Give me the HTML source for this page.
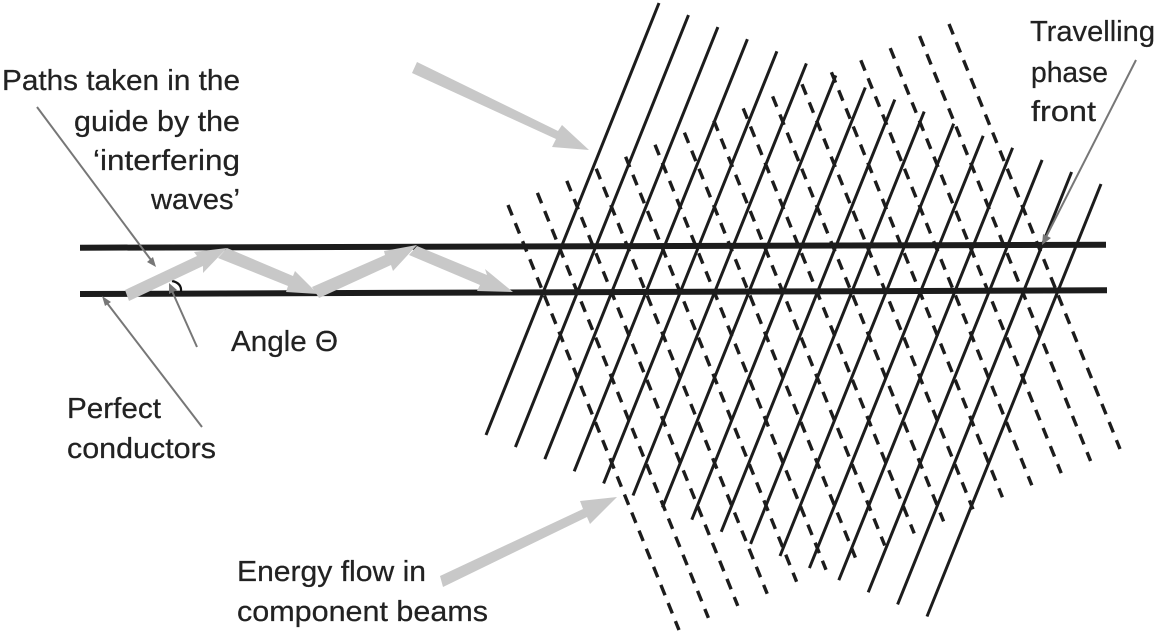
<!DOCTYPE html>
<html><head><meta charset="utf-8"><style>
html,body{margin:0;padding:0;background:#fff;width:1158px;height:633px;overflow:hidden}
svg{display:block}
text{font-family:"Liberation Sans",sans-serif;font-size:29px;fill:#222;stroke:#222;stroke-width:.25px}
</style></head><body>
<svg width="1158" height="633" viewBox="0 0 1158 633" xmlns="http://www.w3.org/2000/svg">
<g stroke="#1c1c1c" stroke-width="3" fill="none">
<line x1="659" y1="3" x2="486" y2="435"/>
<line x1="688.5" y1="15.1" x2="515.4" y2="447.1"/>
<line x1="717.9" y1="27.1" x2="544.8" y2="459.2"/>
<line x1="747.4" y1="39.2" x2="574.2" y2="471.3"/>
<line x1="776.9" y1="51.3" x2="603.6" y2="483.4"/>
<line x1="806.4" y1="63.4" x2="633" y2="495.5"/>
<line x1="835.8" y1="75.4" x2="662.4" y2="507.6"/>
<line x1="865.3" y1="87.5" x2="691.8" y2="519.7"/>
<line x1="894.8" y1="99.6" x2="721.2" y2="531.8"/>
<line x1="924.2" y1="111.6" x2="750.6" y2="543.9"/>
<line x1="953.7" y1="123.7" x2="780" y2="556"/>
<line x1="983.2" y1="135.8" x2="809.4" y2="568.1"/>
<line x1="1012.6" y1="147.8" x2="838.8" y2="580.2"/>
<line x1="1042.1" y1="159.9" x2="868.2" y2="592.3"/>
<line x1="1071.6" y1="172" x2="897.6" y2="604.4"/>
<line x1="1101" y1="184" x2="927" y2="616.5"/>
</g>
<g stroke="#1c1c1c" stroke-width="3.4" fill="none" stroke-dasharray="11.2 8.3">
<line x1="508" y1="205" x2="679" y2="630"/>
<line x1="537.4" y1="192.9" x2="708.4" y2="617.9"/>
<line x1="566.8" y1="180.9" x2="737.8" y2="605.9"/>
<line x1="596.2" y1="168.8" x2="767.2" y2="593.8"/>
<line x1="625.6" y1="156.7" x2="796.6" y2="581.7"/>
<line x1="655" y1="144.7" x2="826" y2="569.7"/>
<line x1="684.4" y1="132.6" x2="855.4" y2="557.6"/>
<line x1="713.8" y1="120.5" x2="884.8" y2="545.5"/>
<line x1="743.2" y1="108.4" x2="914.2" y2="533.4"/>
<line x1="772.6" y1="96.4" x2="943.6" y2="521.4"/>
<line x1="802" y1="84.3" x2="973" y2="509.3"/>
<line x1="831.4" y1="72.2" x2="1002.4" y2="497.2"/>
<line x1="860.8" y1="60.2" x2="1031.8" y2="485.2"/>
<line x1="890.2" y1="48.1" x2="1061.2" y2="473.1"/>
<line x1="919.6" y1="36" x2="1090.6" y2="461"/>
<line x1="949" y1="24" x2="1120" y2="449"/>
</g>
<line x1="80" y1="247.7" x2="1106" y2="244.7" stroke="#1c1c1c" stroke-width="6"/>
<line x1="80" y1="294" x2="1107" y2="290.3" stroke="#1c1c1c" stroke-width="6"/>
<path d="M172 281 Q182 283 181 292" fill="none" stroke="#111" stroke-width="2.2"/>
<g fill="#c8c8c8">
<polygon points="125,290 197,256 194,252 227,248 203,273 203,266 129,301"/>
<polygon points="227,248 293,276 295,271 318,294 286,292 288,286 218,258"/>
<polygon points="312,287 385,255 384,251 417,245 393,271 391,265 319,298"/>
<polygon points="417,246 487,275 485,269 513,292 477,291 480,285 409,255"/>
<polygon points="417,62 558,131 562,125 589,150 552,147 556,139 412,73"/>
<polygon points="440,576 583,509 580,501 617,497 590,524 587,517 443,587"/>
</g>
<g stroke="#777" stroke-width="2" fill="none">
<line x1="37" y1="107" x2="151" y2="260"/>
<line x1="202" y1="427" x2="107" y2="303"/>
<line x1="197" y1="347" x2="172" y2="291"/>
<line x1="1136" y1="60" x2="1046" y2="237"/>
</g>
<g fill="#777">
<polygon points="156,267 147,262 153,257"/>
<polygon points="102,296 111,302 105,306"/>
<polygon points="169,283 177,290 169,294"/>
<polygon points="1042,245 1051,238 1043,234"/>
</g>
<text x="2" y="90" textLength="238" lengthAdjust="spacingAndGlyphs">Paths taken in the</text>
<text x="74" y="131" textLength="166" lengthAdjust="spacingAndGlyphs">guide by the</text>
<text x="93" y="170" textLength="147" lengthAdjust="spacingAndGlyphs">‘interfering</text>
<text x="151" y="209" textLength="89" lengthAdjust="spacingAndGlyphs">waves’</text>
<text x="231" y="351" textLength="107" lengthAdjust="spacingAndGlyphs">Angle Θ</text>
<text x="67" y="418" textLength="94" lengthAdjust="spacingAndGlyphs">Perfect</text>
<text x="67" y="458" textLength="149" lengthAdjust="spacingAndGlyphs">conductors</text>
<text x="237" y="581" textLength="189" lengthAdjust="spacingAndGlyphs">Energy flow in</text>
<text x="237" y="621" textLength="251" lengthAdjust="spacingAndGlyphs">component beams</text>
<text x="1030" y="41" textLength="125" lengthAdjust="spacingAndGlyphs">Travelling</text>
<text x="1031" y="82" textLength="77" lengthAdjust="spacingAndGlyphs">phase</text>
<text x="1031" y="121" textLength="65" lengthAdjust="spacingAndGlyphs">front</text>
</svg>
</body></html>
